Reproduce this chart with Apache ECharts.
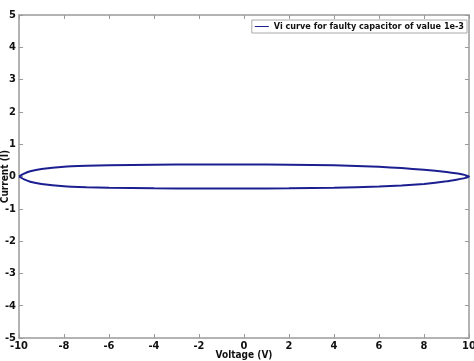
<!DOCTYPE html>
<html>
<head>
<meta charset="utf-8">
<script src="https://cdn.jsdelivr.net/npm/echarts@6/dist/echarts.min.js"></script>
<style>
html,body{margin:0;padding:0;background:#fff;}
#c{width:474px;height:361px;}
</style>
</head>
<body>
<div id="c"></div>
<script>
// Values (closed loop: upper branch left->right, lower branch right->left)
var voltage = [-10, -9.8, -9.5, -9, -8, -7, -6, -4, -2, 0, 2, 4, 6, 7, 8, 9, 9.5, 9.8, 10,
               9.8, 9.5, 9, 8, 7, 6, 4, 2, 0, -2, -4, -6, -7, -8, -9, -9.5, -9.8, -10];
var current = [0, 0.08, 0.16, 0.23, 0.30, 0.33, 0.35, 0.365, 0.37, 0.37, 0.365, 0.35, 0.30, 0.26, 0.21, 0.14, 0.09, 0.05, 0,
               -0.05, -0.09, -0.15, -0.23, -0.28, -0.31, -0.35, -0.365, -0.37, -0.37, -0.365, -0.35, -0.33, -0.30, -0.23, -0.16, -0.08, 0];
var xTicks = [-10, -8, -6, -4, -2, 0, 2, 4, 6, 8, 10];
var yTicks = [-5, -4, -3, -2, -1, 0, 1, 2, 3, 4, 5];
var seriesName = 'Vi curve for faulty capacitor of value 1e-3';
var xTitle = 'Voltage (V)';
var yTitle = 'Current (I)';

function hasFont(name) {
  var c = document.createElement('canvas').getContext('2d');
  var s = 'Vi curve for faulty capacitor 1234567890';
  c.font = 'bold 12px monospace';
  var a = c.measureText(s).width;
  c.font = "bold 12px '" + name + "', monospace";
  var b = c.measureText(s).width;
  return Math.abs(a - b) > 0.5;
}
var narrow = hasFont('Liberation Sans Narrow');
var FONT = narrow ? "'Liberation Sans Narrow', sans-serif" : "'DejaVu Sans Condensed', 'Liberation Sans', sans-serif";
var legendSize = narrow ? 12 : 9;
var axisGray = '#9a9a9a';
var pts = voltage.map(function (v, i) { return [v, current[i]]; });

var chart = echarts.init(document.getElementById('c'));
function baseAxis(extra) {
  return Object.assign({
    axisLine: { show: true, onZero: false, lineStyle: { color: axisGray, width: 1.5 } },
    axisTick: { show: true, inside: true, length: 4, lineStyle: { color: axisGray } },
    splitLine: { show: false }
  }, extra);
}
chart.setOption({
  animation: false,
  backgroundColor: '#fff',
  grid: { left: 19, right: 5, top: 15, bottom: 23, containLabel: false, outerBoundsMode: 'none' },
  legend: {
    data: [seriesName],
    right: 7, top: 20,
    icon: 'rect', itemWidth: 14, itemHeight: 1,
    itemGap: 4,
    padding: [2, 3, 2, 3],
    borderColor: '#aaa', borderWidth: 1, backgroundColor: '#fff',
    textStyle: { fontFamily: FONT, fontWeight: 'bold', fontSize: legendSize, color: '#111' }
  },
  xAxis: [
    baseAxis({
      type: 'value', min: xTicks[0], max: xTicks[xTicks.length - 1], interval: 2,
      name: xTitle, nameLocation: 'middle', nameGap: 12, nameMoveOverlap: false,
      nameTextStyle: { fontFamily: FONT, fontWeight: 'bold', fontSize: 10, color: '#111' },
      axisLabel: { margin: 3, fontFamily: FONT, fontWeight: 'bold', fontSize: 11, color: '#111' }
    }),
    baseAxis({
      type: 'value', position: 'top', min: xTicks[0], max: xTicks[xTicks.length - 1], interval: 2,
      axisLabel: { show: false }
    })
  ],
  yAxis: [
    baseAxis({
      type: 'value', min: yTicks[0], max: yTicks[yTicks.length - 1], interval: 1,
      name: yTitle, nameLocation: 'middle', nameGap: 9, nameRotate: 90, nameMoveOverlap: false,
      nameTextStyle: { fontFamily: FONT, fontWeight: 'bold', fontSize: 10, color: '#111' },
      axisLabel: { margin: 3, fontFamily: FONT, fontWeight: 'bold', fontSize: 11, color: '#111' }
    }),
    baseAxis({
      type: 'value', position: 'right', min: yTicks[0], max: yTicks[yTicks.length - 1], interval: 1,
      axisLabel: { show: false }
    })
  ],
  series: [{
    name: seriesName,
    type: 'line',
    data: pts,
    smooth: 0.12,
    showSymbol: false,
    symbol: 'none',
    color: '#1c1f90',
    lineStyle: { color: '#1c1f90', width: 2 }
  }]
});
</script>
</body>
</html>
